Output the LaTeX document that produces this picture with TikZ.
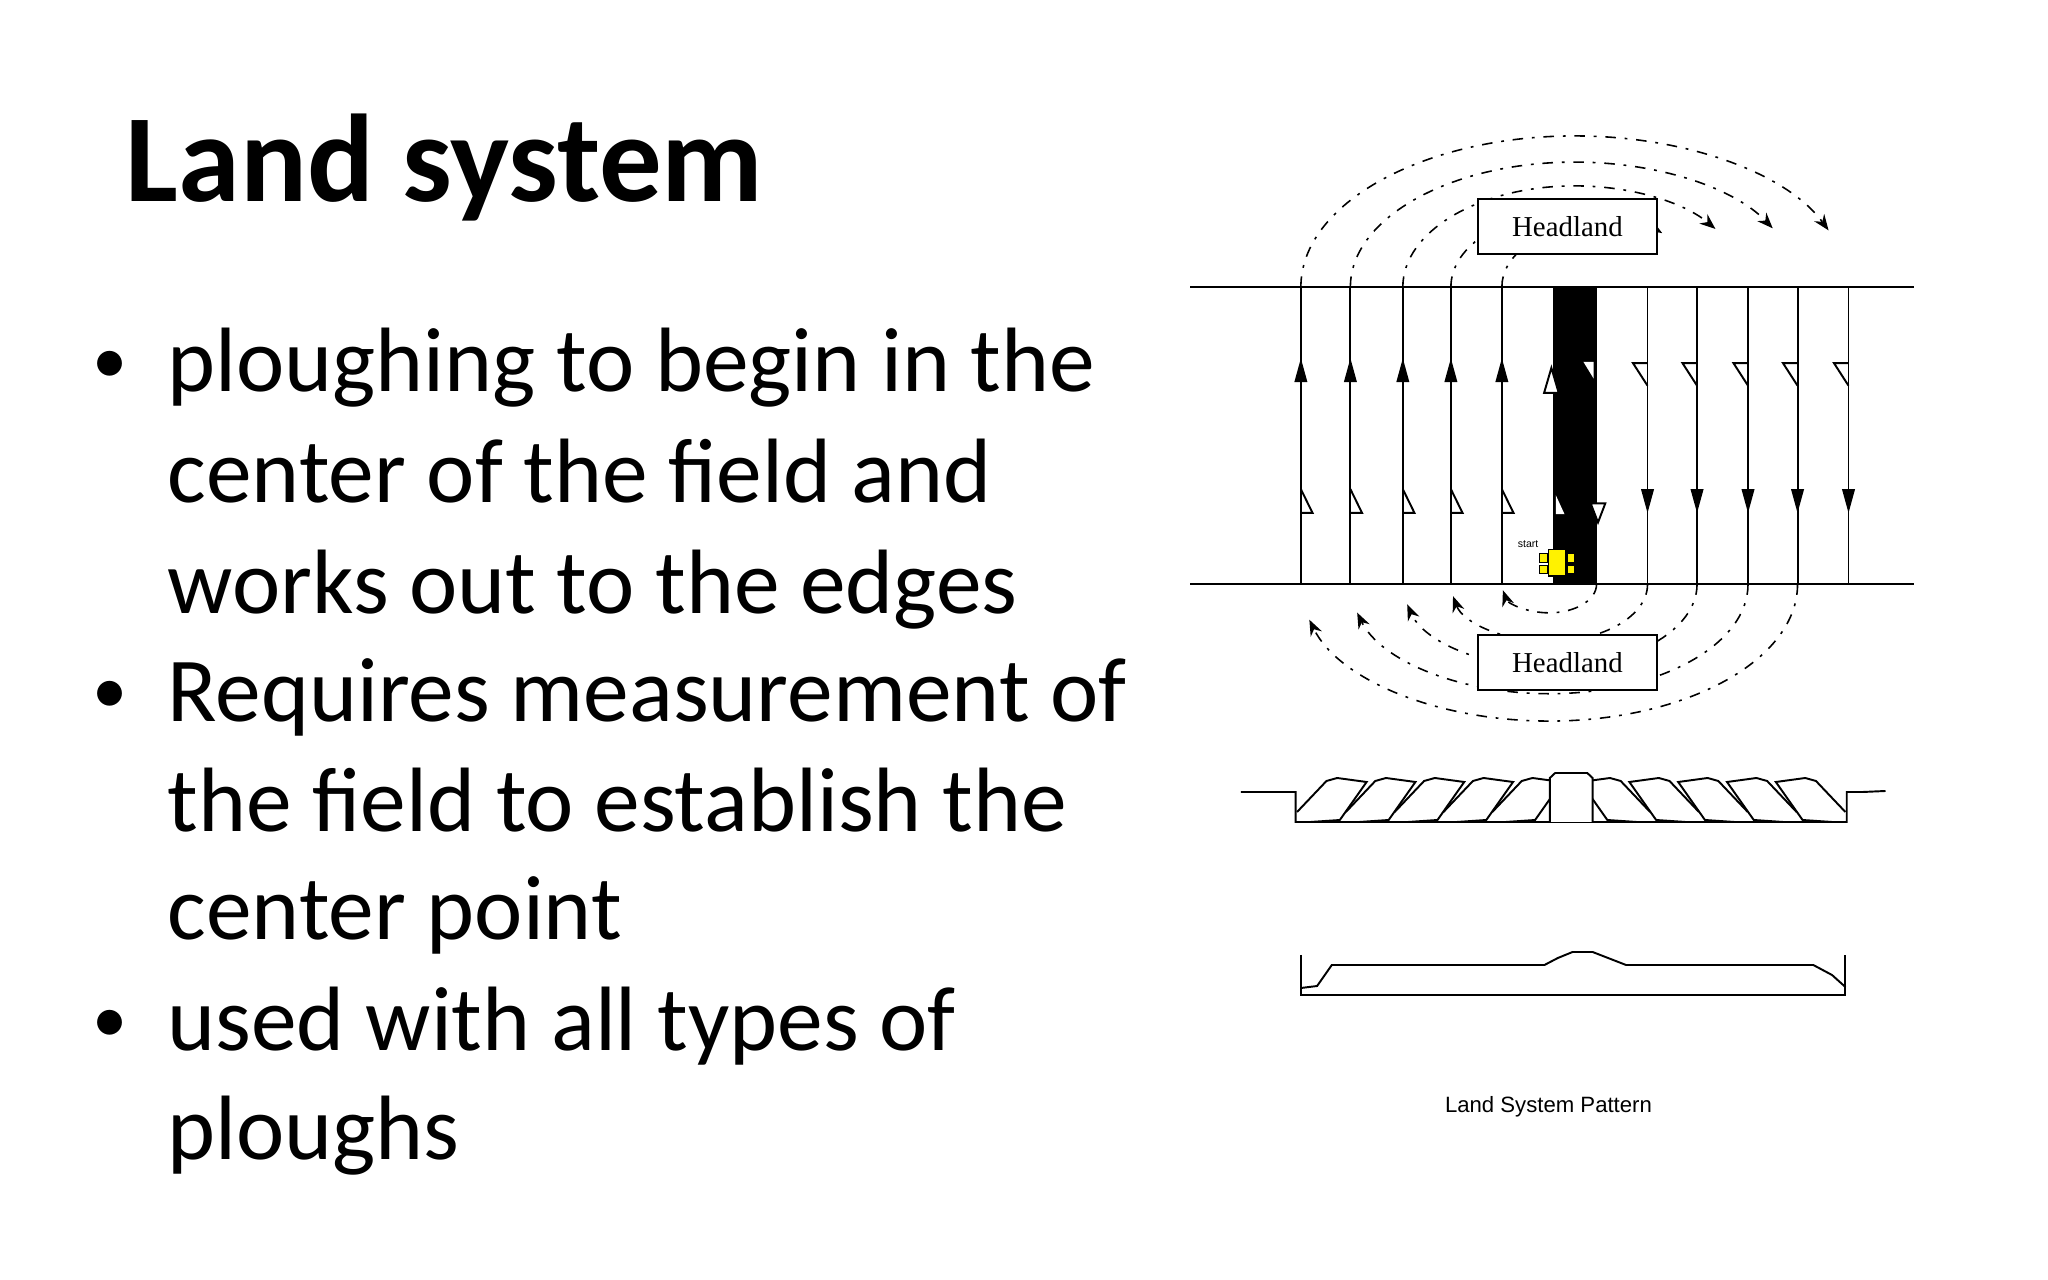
\documentclass[tikz,border=0pt]{standalone}
\usepackage{fontspec}
\setmainfont{Carlito}
\newfontfamily\serifx{Liberation Serif}
\newfontfamily\sansx{Liberation Sans}
\usetikzlibrary{arrows.meta}
\begin{document}
\begin{tikzpicture}[x=0.01cm,y=-0.01cm,
  fld/.style={line width=0.55pt},
  dd/.style={line width=0.45pt, dash pattern=on 3pt off 2.5pt on 0.8pt off 2.5pt, -{Stealth[length=4.5pt,width=3.5pt]}},
  bul/.style={anchor=base west, font=\fontsize{26}{30}\selectfont, inner sep=0pt},
  hbox/.style={draw, fill=white, line width=0.6pt, minimum width=1.79cm, minimum height=0.55cm, inner sep=0pt, font=\serifx\fontsize{8.2}{9}\selectfont}]
\useasboundingbox (0,0) rectangle (2048,1280);
\fill[white] (0,0) rectangle (2048,1280);
% title
\node[anchor=base west, inner sep=0pt, font=\bfseries\fontsize{35.5}{42}\selectfont] (title) at (125,202) {Land system};
% bullets
\foreach \y/\t in {392/ploughing to begin in the, 503/center of the field and, 614/works out to the edges, 722/Requires measurement of, 832/the field to establish the, 940/center point, 1051/used with all types of, 1160/ploughs}
  \node[bul] at (167,\y) {\t};
\foreach \y in {392,722,1051}
  \node[bul, font=\fontsize{20}{24}\selectfont] at (92,\y-8) {\textbullet};
% ===== field plan =====
\begin{scope}[x=0.01455cm, y=-0.01188cm, shift={(-5.369cm,0.246cm)}]
\foreach \xl/\ry/\ea in {1262/127/22, 1296/105/28, 1332/85/35, 1365/64/45, 1400/46/60}
  \draw[dd] (\xl,262) arc[start angle=180, end angle=\ea, x radius={(1450-\xl)*0.01455cm}, y radius={\ry*0.01188cm}];
\foreach \xr/\xl/\ry/\ea in {1465/1400/24/-168, 1500/1365/48/-168, 1534/1332/70/-166, 1569/1296/92/-165, 1603/1262/115/-165}
  \draw[dd] (\xr,512) arc[start angle=0, end angle=\ea, x radius={(\xr-\xl)/2*0.01455cm}, y radius={\ry*0.01188cm}];
\draw[fld] (1186,262) -- (1683,262);
\draw[fld] (1186,512) -- (1683,512);
\fill (1435,262) rectangle (1465,512);
\foreach \x in {1262,1296,1332,1365,1400}{
  \draw[fld] (\x,262) -- (\x,512);
  \fill (\x-4.5,342) -- (\x,322) -- (\x+4.5,342) -- cycle;
  \draw[fld] (\x,432) -- (\x+8,452) -- (\x,452);
}
\foreach \x in {1500,1534,1569,1603,1638}{
  \draw[fld] (\x,262) -- (\x,512);
  \fill (\x-4.5,432) -- (\x,452) -- (\x+4.5,432) -- cycle;
  \draw[fld] (\x,345) -- (\x-10,326) -- (\x,326);
}
\draw[fld, fill=white] (1429,351) -- (1434,330) -- (1439,351) -- cycle;
\fill[white] (1456,325) -- (1463,325) -- (1463,339) -- cycle;
\fill[white] (1437,437) -- (1437,453) -- (1443,453) -- cycle;
\draw[fld, fill=white] (1461,444) -- (1471,444) -- (1466,460) -- cycle;
\node[font=\sansx\fontsize{3}{3}\selectfont, inner sep=0pt] (st) at (1418,478) {start};
\draw[fill=yellow, line width=0.3pt] (1432,483) rectangle (1444,505);
\draw[fill=yellow, line width=0.3pt] (1426,486) rectangle (1431,494);
\draw[fill=yellow, line width=0.3pt] (1426,496) rectangle (1431,503);
\draw[fill=yellow, line width=0.3pt] (1445,486) rectangle (1450,494);
\draw[fill=yellow, line width=0.3pt] (1445,496) rectangle (1450,503);
\node[hbox] (h1) at (1445,211) {Headland};
\node[hbox] (h2) at (1445,578) {Headland};
\end{scope}
% ===== cross sections =====
\begin{scope}[x=0.01337cm, shift={(-4.106cm,0)}]
\draw[fld] (1235,792) -- (1276,792) -- (1276,822) -- (1688,822) -- (1688,792) -- (1700,792) -- (1717,791);
\foreach \i in {0,...,4}{
  \pgfmathsetmacro\xo{1277+36.5*\i}
  \draw[fld] (\xo,812) -- (\xo+22,781) -- (\xo+30,778) -- (\xo+52,782) -- (\xo+32,820) -- (\xo+10,822);
  \pgfmathsetmacro\xp{1687-36.5*\i}
  \draw[fld] (\xp,812) -- (\xp-22,781) -- (\xp-30,778) -- (\xp-52,782) -- (\xp-32,820) -- (\xp-10,822);
}
\draw[fld, fill=white] (1466,822) -- (1466,778) -- (1470,773) -- (1494,773) -- (1498,778) -- (1498,822);
\draw[fld] (1280,955) -- (1280,995) -- (1687,995) -- (1687,955);
\draw[fld] (1280,988) -- (1292,986) -- (1303,965) -- (1462,965) -- (1472,958) -- (1483,952) -- (1498,952) -- (1523,965) -- (1663,965) -- (1677,975) -- (1687,987);
\node[font=\sansx\fontsize{6.3}{7}\selectfont, inner sep=0pt] (cap) at (1465,1107) {Land System Pattern};
\end{scope}
\end{tikzpicture}
\end{document}
